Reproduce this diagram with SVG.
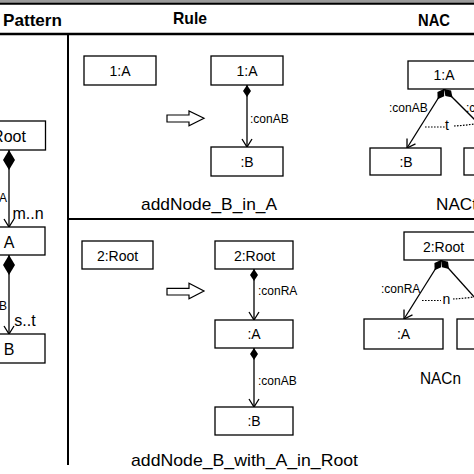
<svg xmlns="http://www.w3.org/2000/svg" width="474" height="474" viewBox="0 0 474 474">
<style>
.box{fill:#fff;stroke:#000;stroke-width:1.3}
.frame{stroke:#000;fill:none}
.edge{stroke:#000;stroke-width:1.3;fill:none}
.dot{stroke:#000;stroke-width:1.2;fill:none;stroke-dasharray:1.6 1.4}
.hdr{font-family:"Liberation Sans",Arial,sans-serif;font-weight:bold;font-size:17px;fill:#000}
.n{font-family:"Liberation Sans",Arial,sans-serif;font-size:14px;fill:#000;text-anchor:middle}
.pn{font-family:"Liberation Sans",Arial,sans-serif;font-size:16px;fill:#000;text-anchor:middle}
.lbl{font-family:"Liberation Sans",Arial,sans-serif;font-size:12px;fill:#000}
.title{font-family:"Liberation Sans",Arial,sans-serif;font-size:17px;fill:#000}
.blk{fill:#fff;stroke:#000;stroke-width:1.2}
</style>
<defs>
<marker id="open" markerUnits="userSpaceOnUse" markerWidth="12" markerHeight="12" refX="8" refY="5" orient="auto" overflow="visible">
<path d="M0,0 L8,5 L0,10" fill="none" stroke="#000" stroke-width="1.3"/>
</marker>
<marker id="dia" markerUnits="userSpaceOnUse" markerWidth="14" markerHeight="10" refX="0" refY="0" orient="auto" overflow="visible">
<path d="M0,0 L6,-4 L12,0 L6,4 Z" fill="#000"/>
</marker>
<marker id="diaL" markerUnits="userSpaceOnUse" markerWidth="22" markerHeight="14" refX="0" refY="0" orient="auto" overflow="visible">
<path d="M0,0 L10,-6 L20,0 L10,6 Z" fill="#000"/>
</marker>
</defs>
<rect x="0" y="0" width="474" height="474" fill="#fff"/>
<g id="frame">
<rect x="0" y="0" width="474" height="3" fill="#9b9b9b"/>
<line class="frame" x1="0" y1="3.8" x2="474" y2="3.8" stroke-width="2"/>
<line class="frame" x1="0" y1="34" x2="474" y2="34" stroke-width="2.5"/>
<line class="frame" x1="68" y1="34" x2="68" y2="465" stroke-width="2"/>
<line class="frame" x1="68" y1="219" x2="474" y2="219" stroke-width="2"/>
<text class="hdr" x="3" y="26" textLength="59" lengthAdjust="spacingAndGlyphs">Pattern</text>
<text class="hdr" x="173" y="24" textLength="34" lengthAdjust="spacingAndGlyphs">Rule</text>
<text class="hdr" x="418" y="26" textLength="32" lengthAdjust="spacingAndGlyphs">NAC</text>
</g>
<g id="connectors">
<line class="edge" x1="9" y1="150" x2="9" y2="227" marker-start="url(#diaL)" marker-end="url(#open)"/>
<line class="edge" x1="9" y1="255" x2="9" y2="334" marker-start="url(#diaL)" marker-end="url(#open)"/>
<line class="edge" x1="247" y1="85" x2="247" y2="147" marker-start="url(#dia)" marker-end="url(#open)"/>
<line class="edge" x1="444" y1="89" x2="407" y2="148" marker-start="url(#dia)" marker-end="url(#open)"/>
<line class="edge" x1="444" y1="89" x2="503" y2="148" marker-start="url(#dia)" marker-end="url(#open)"/>
<line class="edge" x1="254" y1="269" x2="254" y2="320" marker-start="url(#dia)" marker-end="url(#open)"/>
<line class="edge" x1="254" y1="348" x2="254" y2="407" marker-start="url(#dia)" marker-end="url(#open)"/>
<line class="edge" x1="441" y1="260" x2="404" y2="319" marker-start="url(#dia)" marker-end="url(#open)"/>
<line class="edge" x1="441" y1="260" x2="494" y2="319" marker-start="url(#dia)" marker-end="url(#open)"/>
<path class="dot" d="M425,127 L445,127"/>
<path class="dot" d="M454,126 Q464,125.5 474,124"/>
<path class="dot" d="M422,300.5 L441,300.5"/>
<path class="dot" d="M453,299 Q463,298.5 474,297"/>
<text class="lbl" x="7" y="202" text-anchor="end">:conRA</text>
<text class="pn" x="28" y="218.5">m..n</text>
<text class="lbl" x="7" y="309.5" text-anchor="end">:conAB</text>
<text class="pn" x="25" y="326">s..t</text>
<text class="lbl" x="250" y="123">:conAB</text>
<text class="lbl" x="389" y="111.5">:conAB</text>
<text class="lbl" x="466" y="111.5">:conAB</text>
<text class="lbl" x="445" y="130" style="font-size:14px">t</text>
<text class="lbl" x="258" y="295">:conRA</text>
<text class="lbl" x="258" y="385">:conAB</text>
<text class="lbl" x="381" y="293">:conRA</text>
<text class="lbl" x="442.5" y="304" style="font-size:14px">n</text>
</g>
<g id="pattern-root"><rect class="box" x="-27" y="121" width="72.5" height="29"/><text class="pn" x="9" y="141.5">Root</text></g>
<g id="pattern-a"><rect class="box" x="-27" y="227" width="72" height="28"/><text class="pn" x="9" y="247.5">A</text></g>
<g id="pattern-b"><rect class="box" x="-27" y="334" width="72" height="29"/><text class="pn" x="9" y="355">B</text></g>
<g id="rule1-lhs-a"><rect class="box" x="84" y="56" width="72" height="29"/><text class="n" x="120" y="75.5">1:A</text></g>
<g id="rule1-arrow"><path class="blk" d="M167,115 L189,115 L189,111 L204,118.3 L189,125.8 L189,122 L167,122 Z"/></g>
<g id="rule1-rhs-a"><rect class="box" x="211" y="56" width="72" height="29"/><text class="n" x="247" y="75.5">1:A</text></g>
<g id="rule1-rhs-b"><rect class="box" x="211" y="147" width="72" height="29"/><text class="n" x="247" y="166.5">:B</text></g>
<g id="rule1-title"><text class="title" x="141" y="209.5" textLength="136" lengthAdjust="spacingAndGlyphs">addNode_B_in_A</text></g>
<g id="nact-a"><rect class="box" x="408" y="61" width="72" height="28"/><text class="n" x="444" y="80">1:A</text></g>
<g id="nact-b"><rect class="box" x="370" y="148" width="71" height="27"/><text class="n" x="406" y="166.5">:B</text></g>
<g id="nact-c"><rect class="box" x="464" y="148" width="71" height="27"/></g>
<g id="nact-title"><text class="title" x="436" y="210" textLength="41" lengthAdjust="spacingAndGlyphs">NACt</text></g>
<g id="rule2-lhs-root"><rect class="box" x="82" y="241" width="71" height="28"/><text class="n" x="117.5" y="260.5">2:Root</text></g>
<g id="rule2-arrow"><path class="blk" d="M167,288.3 L189,288.3 L189,283.3 L204,291 L189,298.7 L189,295 L167,295 Z"/></g>
<g id="rule2-rhs-root"><rect class="box" x="215" y="241" width="78" height="28"/><text class="n" x="254.5" y="260.5">2:Root</text></g>
<g id="rule2-rhs-a"><rect class="box" x="215" y="320" width="78" height="28"/><text class="n" x="254" y="339">:A</text></g>
<g id="rule2-rhs-b"><rect class="box" x="215" y="407" width="78" height="28"/><text class="n" x="254" y="426">:B</text></g>
<g id="rule2-title"><text class="title" x="131" y="466" textLength="227" lengthAdjust="spacingAndGlyphs">addNode_B_with_A_in_Root</text></g>
<g id="nacn-root"><rect class="box" x="404" y="232" width="79" height="28"/><text class="n" x="443.5" y="251.5">2:Root</text></g>
<g id="nacn-a"><rect class="box" x="364" y="319" width="79" height="30"/><text class="n" x="403.5" y="339">:A</text></g>
<g id="nacn-a2"><rect class="box" x="457" y="319" width="79" height="30"/></g>
<g id="nacn-title"><text class="title" x="420" y="384" textLength="41" lengthAdjust="spacingAndGlyphs">NACn</text></g>
</svg>
